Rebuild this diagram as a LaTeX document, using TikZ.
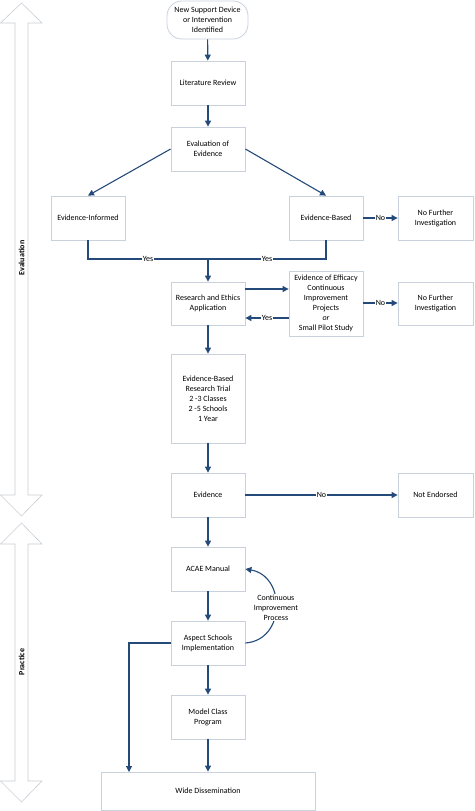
\documentclass[tikz,border=0pt]{standalone}
\usepackage{fontspec}
\setmainfont{Carlito}
\usetikzlibrary{arrows.meta}
\definecolor{boxline}{HTML}{C9D1DD}
\definecolor{arrblue}{HTML}{244A7A}
\definecolor{bigarr}{HTML}{C8CCD3}
\tikzset{
  box/.style={draw=boxline, line width=0.8pt, fill=white, align=center, font=\fontsize{8}{10}\selectfont, inner sep=1pt},
  arr/.style={draw=arrblue, line width=1.1pt, -{Triangle[length=6pt,width=6pt]}},
  lnk/.style={draw=arrblue, line width=1.1pt},
  lbl/.style={fill=white, inner sep=1pt, font=\fontsize{8}{10}\selectfont},
  bigarrow/.style={draw=bigarr, line width=0.6pt},
  side/.style={font=\fontsize{8}{10}\selectfont\bfseries, rotate=90}
}
\begin{document}
\begin{tikzpicture}[x=1pt,y=-1pt]
\useasboundingbox (0,0) rectangle (474,811);
% big side arrows
\draw[bigarrow] (21.5,3) -- (42,23) -- (28,23) -- (28,495) -- (42,495) -- (21.5,516) -- (0.5,495) -- (15,495) -- (15,23) -- (0.5,23) -- cycle;
\draw[bigarrow] (21.5,523) -- (42,544) -- (28,544) -- (28,781) -- (42,781) -- (21.5,802) -- (0.5,781) -- (15,781) -- (15,544) -- (0.5,544) -- cycle;
\node[side] (evallbl) at (21.5,258) {Evaluation};
\node[side] (praclbl) at (21.5,662) {Practice};
% nodes
\node[box, rounded corners=15pt, minimum width=81pt, minimum height=38pt] (start) at (207.5,20) {New Support Device\\or Intervention\\Identified};
\node[box, minimum width=74pt, minimum height=44pt] (lit) at (208,83) {Literature Review};
\node[box, minimum width=74pt, minimum height=44pt] (evalev) at (208,149) {Evaluation of\\Evidence};
\node[box, minimum width=74pt, minimum height=44pt] (einf) at (88,218) {Evidence-Informed};
\node[box, minimum width=74pt, minimum height=44pt] (ebas) at (326,218) {Evidence-Based};
\node[box, minimum width=75pt, minimum height=44pt] (nfi1) at (435.5,218) {No Further\\Investigation};
\node[box, minimum width=74pt, minimum height=43pt] (rea) at (208,303.5) {Research and Ethics\\Application};
\node[box, minimum width=74pt, minimum height=65pt] (eff) at (326,303.5) {Evidence of Efficacy\\Continuous\\Improvement\\Projects\\\textit{or}\\Small Pilot Study};
\node[box, minimum width=75pt, minimum height=43pt] (nfi2) at (435.5,303.5) {No Further\\Investigation};
\node[box, minimum width=74pt, minimum height=89pt] (trial) at (208,398.5) {Evidence-Based\\Research Trial\\2 -3 Classes\\2 -5 Schools\\1 Year};
\node[box, minimum width=74pt, minimum height=44pt] (evid) at (208,495) {Evidence};
\node[box, minimum width=75pt, minimum height=44pt] (note) at (435.5,495) {Not Endorsed};
\node[box, minimum width=74pt, minimum height=44pt] (acae) at (208,569) {ACAE Manual};
\node[box, minimum width=74pt, minimum height=44pt] (asp) at (208,643) {Aspect Schools\\Implementation};
\node[box, minimum width=74pt, minimum height=44pt] (model) at (208,717) {Model Class\\Program};
\node[box, minimum width=214pt, minimum height=38pt] (wide) at (208,791) {Wide Dissemination};
\coordinate (j) at (208,259);
\coordinate (wl) at (129,772);
% connectors
\draw[arr] (start) -- (lit);
\draw[arr] (lit) -- (evalev);
\draw[arr] (evalev.west) -- (einf.north);
\draw[arr] (evalev.east) -- (ebas.north);
\draw[arr] (ebas.east) -- node[lbl] {No} (nfi1.west);
\draw[lnk] (einf.south) |- node[lbl, pos=0.75] {Yes} (j);
\draw[lnk] (ebas.south) |- node[lbl, pos=0.75] {Yes} (j);
\draw[arr] (j) -- (rea.north);
\draw[arr] (rea.east |- 0,289) -- (eff.west |- 0,289);
\draw[arr] (eff.west |- 0,318) -- node[lbl] {Yes} (rea.east |- 0,318);
\draw[arr] (eff.east |- 0,303) -- node[lbl] {No} (nfi2.west |- 0,303);
\draw[arr] (rea) -- (trial);
\draw[arr] (trial) -- (evid);
\draw[arr] (evid.east) -- node[lbl] {No} (note.west);
\draw[arr] (evid) -- (acae);
\draw[arr] (acae) -- (asp);
\draw[arr] (asp) -- (model);
\draw[arr] (model) -- (wide);
\draw[arr] (asp.west) -| (wl);
\draw[arr] (asp.east) .. controls (286,640) and (286,576) .. node[lbl, align=center] {Continuous\\Improvement\\Process} (acae.east);
\end{tikzpicture}
\end{document}
